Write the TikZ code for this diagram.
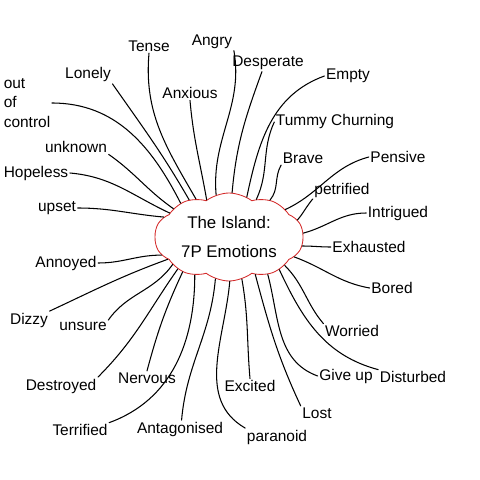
\documentclass[tikz,border=0pt]{standalone}
\usepackage{fontspec}
\setmainfont{Liberation Sans}
\usepackage{xcolor}
\definecolor{cloudred}{HTML}{D42A2A}
\usepackage{tikz}
\usetikzlibrary{shapes.symbols}

\begin{document}
\begin{tikzpicture}[x=0.25mm,y=-0.25mm,
  lbl/.style={font=\fontsize{11}{14}\selectfont,align=left,inner sep=1pt},
  isle/.style={cloud,draw=cloudred,line width=0.6pt,cloud puffs=10,cloud puff arc=75,
    cloud ignores aspect,minimum width=33mm,minimum height=22mm,align=center,
    font=\fontsize{12}{20}\selectfont},
  tie/.style={line width=0.75pt,line cap=round}]
  \useasboundingbox (0,0) rectangle (480,480);
  \node[isle] (isl) at (229,237) {The Island:\\7P Emotions};
  \foreach \n/\x/\y/\t in {occ/27/103/{out\\of\\control},lonely/88/75/Lonely,
    tense/149/46/Tense,anx/190/93/Anxious,angry/212/42/Angry,desp/268/63/Desperate,
    empty/348/76/Empty,tummy/335/122/Tummy Churning,brave/303/158/Brave,
    pens/398/157/Pensive,petr/342/190/petrified,intr/398/213/Intrigued,
    exh/369/247/Exhausted,bored/392/288/Bored,worr/352/331/Worried,
    giveup/346/376/Give up,dist/413/377/Disturbed,lost/317/413/Lost,
    exc/250/386/Excited,para/277/437/paranoid,ant/180/429/Antagonised,
    terr/80/430/Terrified,nerv/147/378/Nervous,destr/61/386/Destroyed,
    unsure/83/326/unsure,dizzy/29/320/Dizzy,ann/66/263/Annoyed,
    upset/57/208/upset,hope/36/173/Hopeless,unk/76/147/unknown}
    \node[lbl] (\n) at (\x,\y) {\t};
  % spokes from each feeling into the cloud
  \foreach \a/\o/\i/\c in {occ.east/0/117/145,lonely.south east/-55/120/137,
    tense.south/-95/120/131,anx.south/-85/100/121,angry.south east/-80/95/107,
    desp.235/-110/85/86,empty.west/200/78/66,tummy.west/-115/65/54,
    brave.south west/-120/50/42,pens.west/195/25/26,petr.south west/-130/50/14,
    intr.west/180/15/3,exh.west/180/0/-7,bored.west/170/-20/-17,
    worr.north west/130/-45/-27,giveup.west/160/-75/-44,dist.north west/165/-65/-33,
    lost.north west/115/-75/-55,exc.north/95/-80/-73,para.north west/150/-95/-89,
    ant.80/85/-95/-108,terr.north east/20/-90/-132,nerv.north/75/-115/-143,
    destr.north east/45/-125/-148,unsure.north east/55/-125/-154,
    dizzy.north east/25/-160/-160,ann.east/0/180/-165,upset.east/0/175/163,
    hope.east/-5/155/158,unk.south east/-35/145/153}
    \draw[tie] (\a) to[out=\o,in=\i] (isl.\c);
\end{tikzpicture}
\end{document}
